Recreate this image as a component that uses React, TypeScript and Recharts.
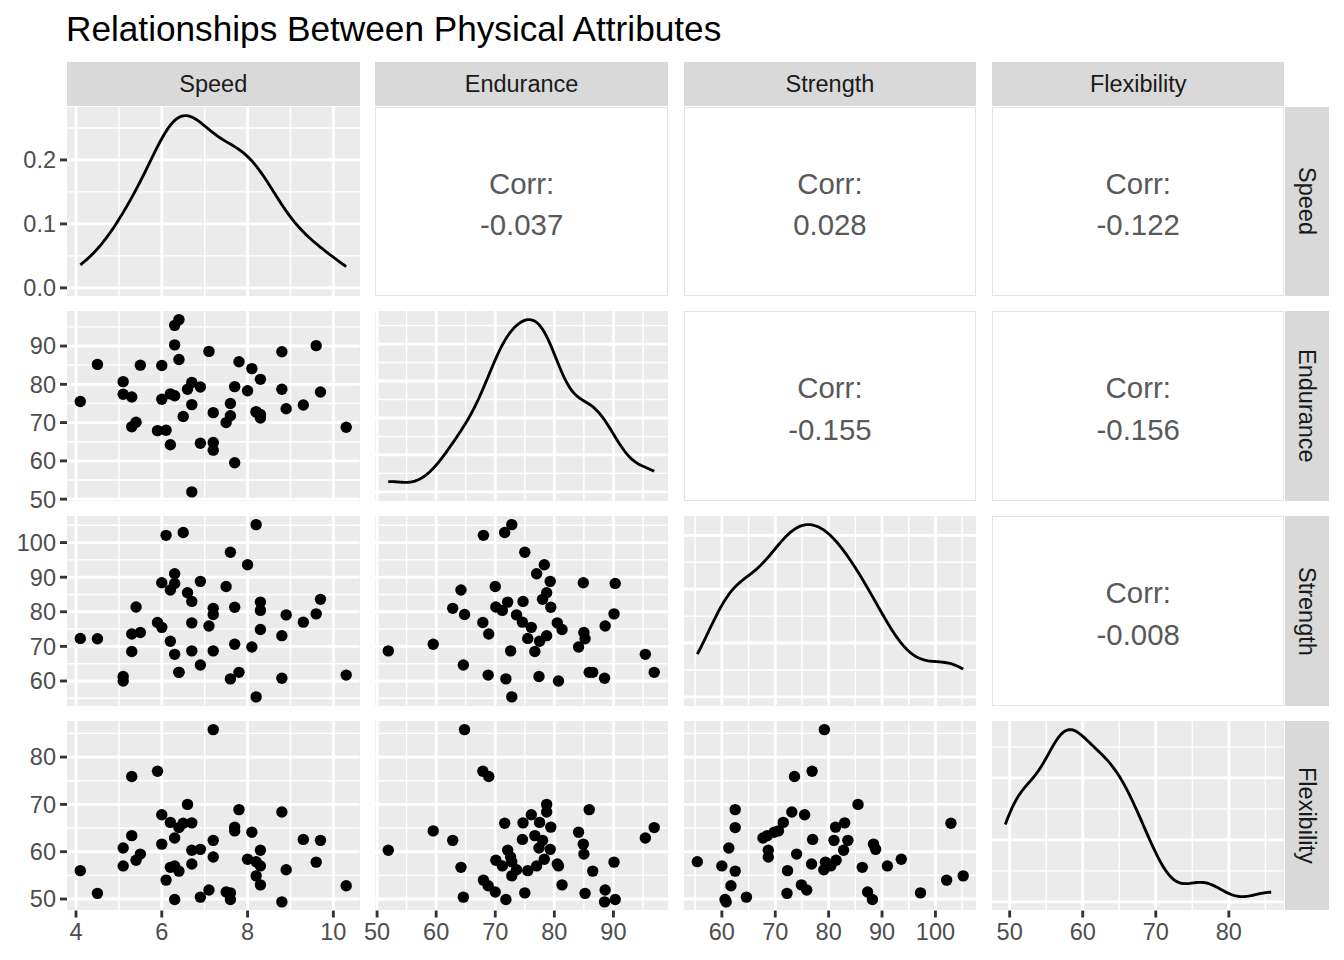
import React from "react";
import { ComposedChart, Scatter, Line, XAxis, YAxis, ReferenceLine } from "recharts";

// one entry per athlete, same order in every list
const speed = [4.1, 4.5, 5.1, 5.1, 5.3, 5.3, 5.4, 5.5, 5.9, 6.0, 6.0, 6.1, 6.2, 6.2, 6.3, 6.3, 6.3, 6.4, 6.4, 6.5, 6.6, 6.7, 6.7, 6.7, 6.9, 6.9, 7.1, 7.2, 7.2, 7.2, 7.5, 7.6, 7.6, 7.7, 7.7, 7.8, 8.0, 8.1, 8.2, 8.2, 8.3, 8.3, 8.3, 8.8, 8.8, 8.9, 9.3, 9.6, 9.7, 10.3];
const endurance = [75.5, 85.2, 80.7, 77.4, 68.9, 76.7, 70.1, 85.0, 67.9, 84.9, 76.1, 68.0, 64.2, 77.5, 95.4, 90.3, 77.0, 96.9, 86.5, 71.6, 78.7, 80.5, 74.7, 51.9, 79.3, 64.6, 88.6, 72.6, 64.8, 62.8, 70.0, 75.0, 71.8, 79.4, 59.5, 85.9, 78.3, 84.1, 72.8, 72.8, 81.3, 72.1, 71.2, 88.5, 78.7, 73.6, 74.6, 90.1, 78.0, 68.8];
const strength = [72.3, 72.2, 60.0, 61.3, 73.6, 68.5, 81.4, 74.0, 76.9, 88.4, 75.5, 102.1, 86.3, 71.5, 67.7, 88.2, 91.0, 62.5, 62.5, 102.9, 85.5, 76.8, 83.0, 68.7, 88.8, 64.6, 75.9, 68.7, 79.2, 81.0, 87.3, 97.2, 60.6, 81.3, 70.6, 62.5, 93.6, 69.8, 105.2, 55.4, 74.9, 82.8, 80.4, 60.8, 73.1, 79.1, 77.0, 79.4, 83.6, 61.7];
const flexibility = [56.0, 51.2, 57.0, 60.8, 75.9, 63.4, 58.2, 59.5, 77.0, 61.6, 67.8, 54.0, 56.7, 66.2, 62.9, 49.9, 57.0, 65.1, 55.9, 66.0, 70.0, 57.4, 66.1, 60.3, 60.5, 50.4, 51.9, 58.9, 85.8, 62.4, 51.5, 51.3, 49.9, 65.2, 64.4, 68.9, 58.4, 64.1, 54.9, 57.9, 53.0, 60.3, 57.0, 49.4, 68.4, 56.2, 62.6, 57.8, 62.4, 52.8];

const varNames = ["Speed", "Endurance", "Strength", "Flexibility"];
const speedTicks = [4, 6, 8, 10];
const enduranceTicks = [50, 60, 70, 80, 90];
const strengthTicks = [60, 70, 80, 90, 100];
const flexibilityTicks = [50, 60, 70, 80];
const speedDensityTicks = [0, 0.1, 0.2];
// upper triangle, row by row: (1,2) (1,3) (1,4) (2,3) (2,4) (3,4)
const corrLabels = ["-0.037", "0.028", "-0.122", "-0.155", "-0.156", "-0.008"];

const FONT = '"Liberation Sans", Arial, Helvetica, sans-serif';
const PANEL_LEFT = 67;
const PITCH_X = 308.33;
const PANEL_W = 292.5;
const PANEL_TOP = 106.7;
const PITCH_Y = 204.75;
const PANEL_H = 189.5;
const Y_AXIS_W = 67;
const X_AXIS_H = 50;
const PAD = 24;
const MAJOR = 2.85;
const MINOR = 1.4;

const vars = [
  { values: speed, ticks: speedTicks },
  { values: endurance, ticks: enduranceTicks },
  { values: strength, ticks: strengthTicks },
  { values: flexibility, ticks: flexibilityTicks },
];

function expand(values: number[]): [number, number] {
  const lo = Math.min(...values);
  const hi = Math.max(...values);
  const r = hi - lo;
  return [lo - 0.05 * r, hi + 0.05 * r];
}

function quantile(sorted: number[], p: number) {
  const h = (sorted.length - 1) * p;
  const i = Math.floor(h);
  const j = Math.min(i + 1, sorted.length - 1);
  return sorted[i] + (h - i) * (sorted[j] - sorted[i]);
}

// gaussian kde with R's bw.nrd0, evaluated over the data range (like stat_density)
function kde(values: number[]) {
  const n = values.length;
  const mean = values.reduce((a, b) => a + b, 0) / n;
  const sd = Math.sqrt(values.reduce((a, b) => a + (b - mean) ** 2, 0) / (n - 1));
  const sorted = [...values].sort((a, b) => a - b);
  const iqr = quantile(sorted, 0.75) - quantile(sorted, 0.25);
  const bw = 0.9 * Math.min(sd, iqr / 1.34) * Math.pow(n, -0.2);
  const lo = sorted[0];
  const hi = sorted[n - 1];
  const out: { x: number; y: number }[] = [];
  const steps = 160;
  for (let k = 0; k <= steps; k++) {
    const x = lo + ((hi - lo) * k) / steps;
    let s = 0;
    for (const v of values) {
      const z = (x - v) / bw;
      s += Math.exp(-0.5 * z * z);
    }
    out.push({ x, y: s / (n * bw * Math.sqrt(2 * Math.PI)) });
  }
  return out;
}

function niceTicks(max: number) {
  const base = Math.pow(10, Math.floor(Math.log10(max)) - 1);
  for (const m of [1, 2, 5, 10, 20, 50]) {
    const step = base * m;
    const count = Math.floor(max / step + 1e-9) + 1;
    if (count <= 5) {
      const t: number[] = [];
      for (let i = 0; i < count; i++) t.push(+(i * step).toFixed(6));
      return t;
    }
  }
  return [0];
}

function minorOf(major: number[]) {
  const step = major[1] - major[0];
  const out = [major[0] - step / 2];
  major.forEach((m) => out.push(+(m + step / 2).toFixed(6)));
  return out;
}

const densities = vars.map((v) => kde(v.values));

const tickStyle = { fill: "#4D4D4D", fontSize: 23.5, fontFamily: FONT };
const tickLineStyle = { stroke: "#333333", strokeWidth: MAJOR };

function gridLines(xMajor: number[], yMajor: number[]) {
  const lines: React.ReactNode[] = [];
  minorOf(xMajor).forEach((v) =>
    lines.push(<ReferenceLine key={"xm" + v} x={v} stroke="#FFFFFF" strokeWidth={MINOR} />)
  );
  minorOf(yMajor).forEach((v) =>
    lines.push(<ReferenceLine key={"ym" + v} y={v} stroke="#FFFFFF" strokeWidth={MINOR} />)
  );
  xMajor.forEach((v) =>
    lines.push(<ReferenceLine key={"xM" + v} x={v} stroke="#FFFFFF" strokeWidth={MAJOR} />)
  );
  yMajor.forEach((v) =>
    lines.push(<ReferenceLine key={"yM" + v} y={v} stroke="#FFFFFF" strokeWidth={MAJOR} />)
  );
  return lines;
}

function Panel({ r, c }: { r: number; c: number }) {
  const left = PANEL_LEFT + c * PITCH_X;
  const top = PANEL_TOP + r * PITCH_Y;

  if (r < c) {
    const idx = r === 0 ? c - 1 : r === 1 ? c + 1 : 5;
    return (
      <div
        style={{
          position: "absolute",
          left,
          top,
          width: PANEL_W,
          height: PANEL_H,
          boxSizing: "border-box",
          border: "1.2px solid #E3E3E3",
          background: "#FFFFFF",
          fontFamily: FONT,
          fontSize: 29.4,
          color: "#595959",
        }}
      >
        <div style={{ position: "absolute", left: 0, width: "100%", textAlign: "center", top: 76 - 20, lineHeight: "40px" }}>
          Corr:
        </div>
        <div style={{ position: "absolute", left: 0, width: "100%", textAlign: "center", top: 117.5 - 20, lineHeight: "40px" }}>
          {corrLabels[idx]}
        </div>
      </div>
    );
  }

  const padL = c === 0 ? Y_AXIS_W : PAD;
  const chartW = PANEL_W + padL + PAD;
  const chartH = PANEL_H + PAD + (r === 3 ? X_AXIS_H : PAD);
  const margin = { top: PAD, right: PAD, bottom: r === 3 ? 0 : PAD, left: c === 0 ? 0 : PAD };

  const xMajor = vars[c].ticks;
  const xDomain = expand(vars[c].values);
  let yDomain: [number, number];
  let yMajor: number[];
  let yFmt = (v: number) => String(v);
  let scatterData: { x: number; y: number }[] = [];
  if (r === c) {
    const max = Math.max(...densities[c].map((d) => d.y));
    yDomain = [-0.05 * max, 1.05 * max];
    yMajor = c === 0 ? speedDensityTicks : niceTicks(max * 1.05);
    yFmt = (v: number) => v.toFixed(1);
  } else {
    yDomain = expand(vars[r].values);
    yMajor = vars[r].ticks;
    scatterData = vars[c].values.map((x, i) => ({ x, y: vars[r].values[i] }));
  }

  const axes = (visible: boolean) => [
    <XAxis
      key="x"
      type="number"
      dataKey="x"
      domain={xDomain}
      allowDataOverflow
      ticks={xMajor}
      interval={0}
      hide={r !== 3}
      height={X_AXIS_H}
      axisLine={false}
      tickSize={7}
      tickMargin={6}
      tickLine={visible ? tickLineStyle : false}
      tick={visible ? tickStyle : false}
    />,
    <YAxis
      key="y"
      type="number"
      dataKey="y"
      domain={yDomain}
      allowDataOverflow
      ticks={yMajor}
      interval={0}
      hide={c !== 0}
      width={Y_AXIS_W}
      axisLine={false}
      tickSize={7}
      tickMargin={4}
      tickFormatter={yFmt}
      tickLine={visible ? tickLineStyle : false}
      tick={visible ? tickStyle : false}
    />,
  ];

  const chartLeft = left - padL;
  const chartTop = top - PAD;
  return (
    <>
      <div
        style={{ position: "absolute", left, top, width: PANEL_W, height: PANEL_H, background: "#EBEBEB" }}
      />
      <div style={{ position: "absolute", left: chartLeft, top: chartTop }}>
        <ComposedChart width={chartW} height={chartH} margin={margin}>
          {axes(true)}
          {gridLines(xMajor, yMajor)}
        </ComposedChart>
      </div>
      <div style={{ position: "absolute", left: chartLeft, top: chartTop }}>
        {r === c ? (
          <ComposedChart width={chartW} height={chartH} margin={margin} data={densities[c]}>
            {axes(false)}
            <Line
              dataKey="y"
              type="linear"
              dot={false}
              stroke="#000000"
              strokeWidth={2.85}
              isAnimationActive={false}
            />
          </ComposedChart>
        ) : (
          <ComposedChart width={chartW} height={chartH} margin={margin}>
            {axes(false)}
            <Scatter
              data={scatterData}
              fill="#000000"
              isAnimationActive={false}
              shape={(p: any) => <circle cx={p.cx} cy={p.cy} r={5.7} fill="#000000" />}
            />
          </ComposedChart>
        )}
      </div>
    </>
  );
}

export default function App() {
  const cells: React.ReactNode[] = [];
  for (let r = 0; r < 4; r++) for (let c = 0; c < 4; c++) cells.push(<Panel key={r + "-" + c} r={r} c={c} />);

  return (
    <div
      style={{
        position: "absolute",
        left: 0,
        top: 0,
        width: 1344,
        height: 960,
        background: "#FFFFFF",
        overflow: "hidden",
        fontFamily: FONT,
      }}
    >
      <div style={{ position: "absolute", left: 66, top: 9, fontSize: 35.2, lineHeight: "40px", color: "#000000" }}>
        Relationships Between Physical Attributes
      </div>
      {varNames.map((name, c) => (
        <div
          key={"top-" + name}
          style={{
            position: "absolute",
            left: PANEL_LEFT + c * PITCH_X,
            top: 62,
            width: PANEL_W,
            height: 44,
            background: "#D9D9D9",
            color: "#1A1A1A",
            fontSize: 23.5,
            lineHeight: "44px",
            textAlign: "center",
          }}
        >
          {name}
        </div>
      ))}
      {varNames.map((name, r) => (
        <div
          key={"right-" + name}
          style={{
            position: "absolute",
            left: 1285,
            top: PANEL_TOP + r * PITCH_Y,
            width: 44,
            height: PANEL_H,
            background: "#D9D9D9",
            color: "#1A1A1A",
            fontSize: 23.5,
            display: "flex",
            alignItems: "center",
            justifyContent: "center",
          }}
        >
          <span style={{ writingMode: "vertical-rl", lineHeight: "44px" }}>{name}</span>
        </div>
      ))}
      {cells}
    </div>
  );
}
